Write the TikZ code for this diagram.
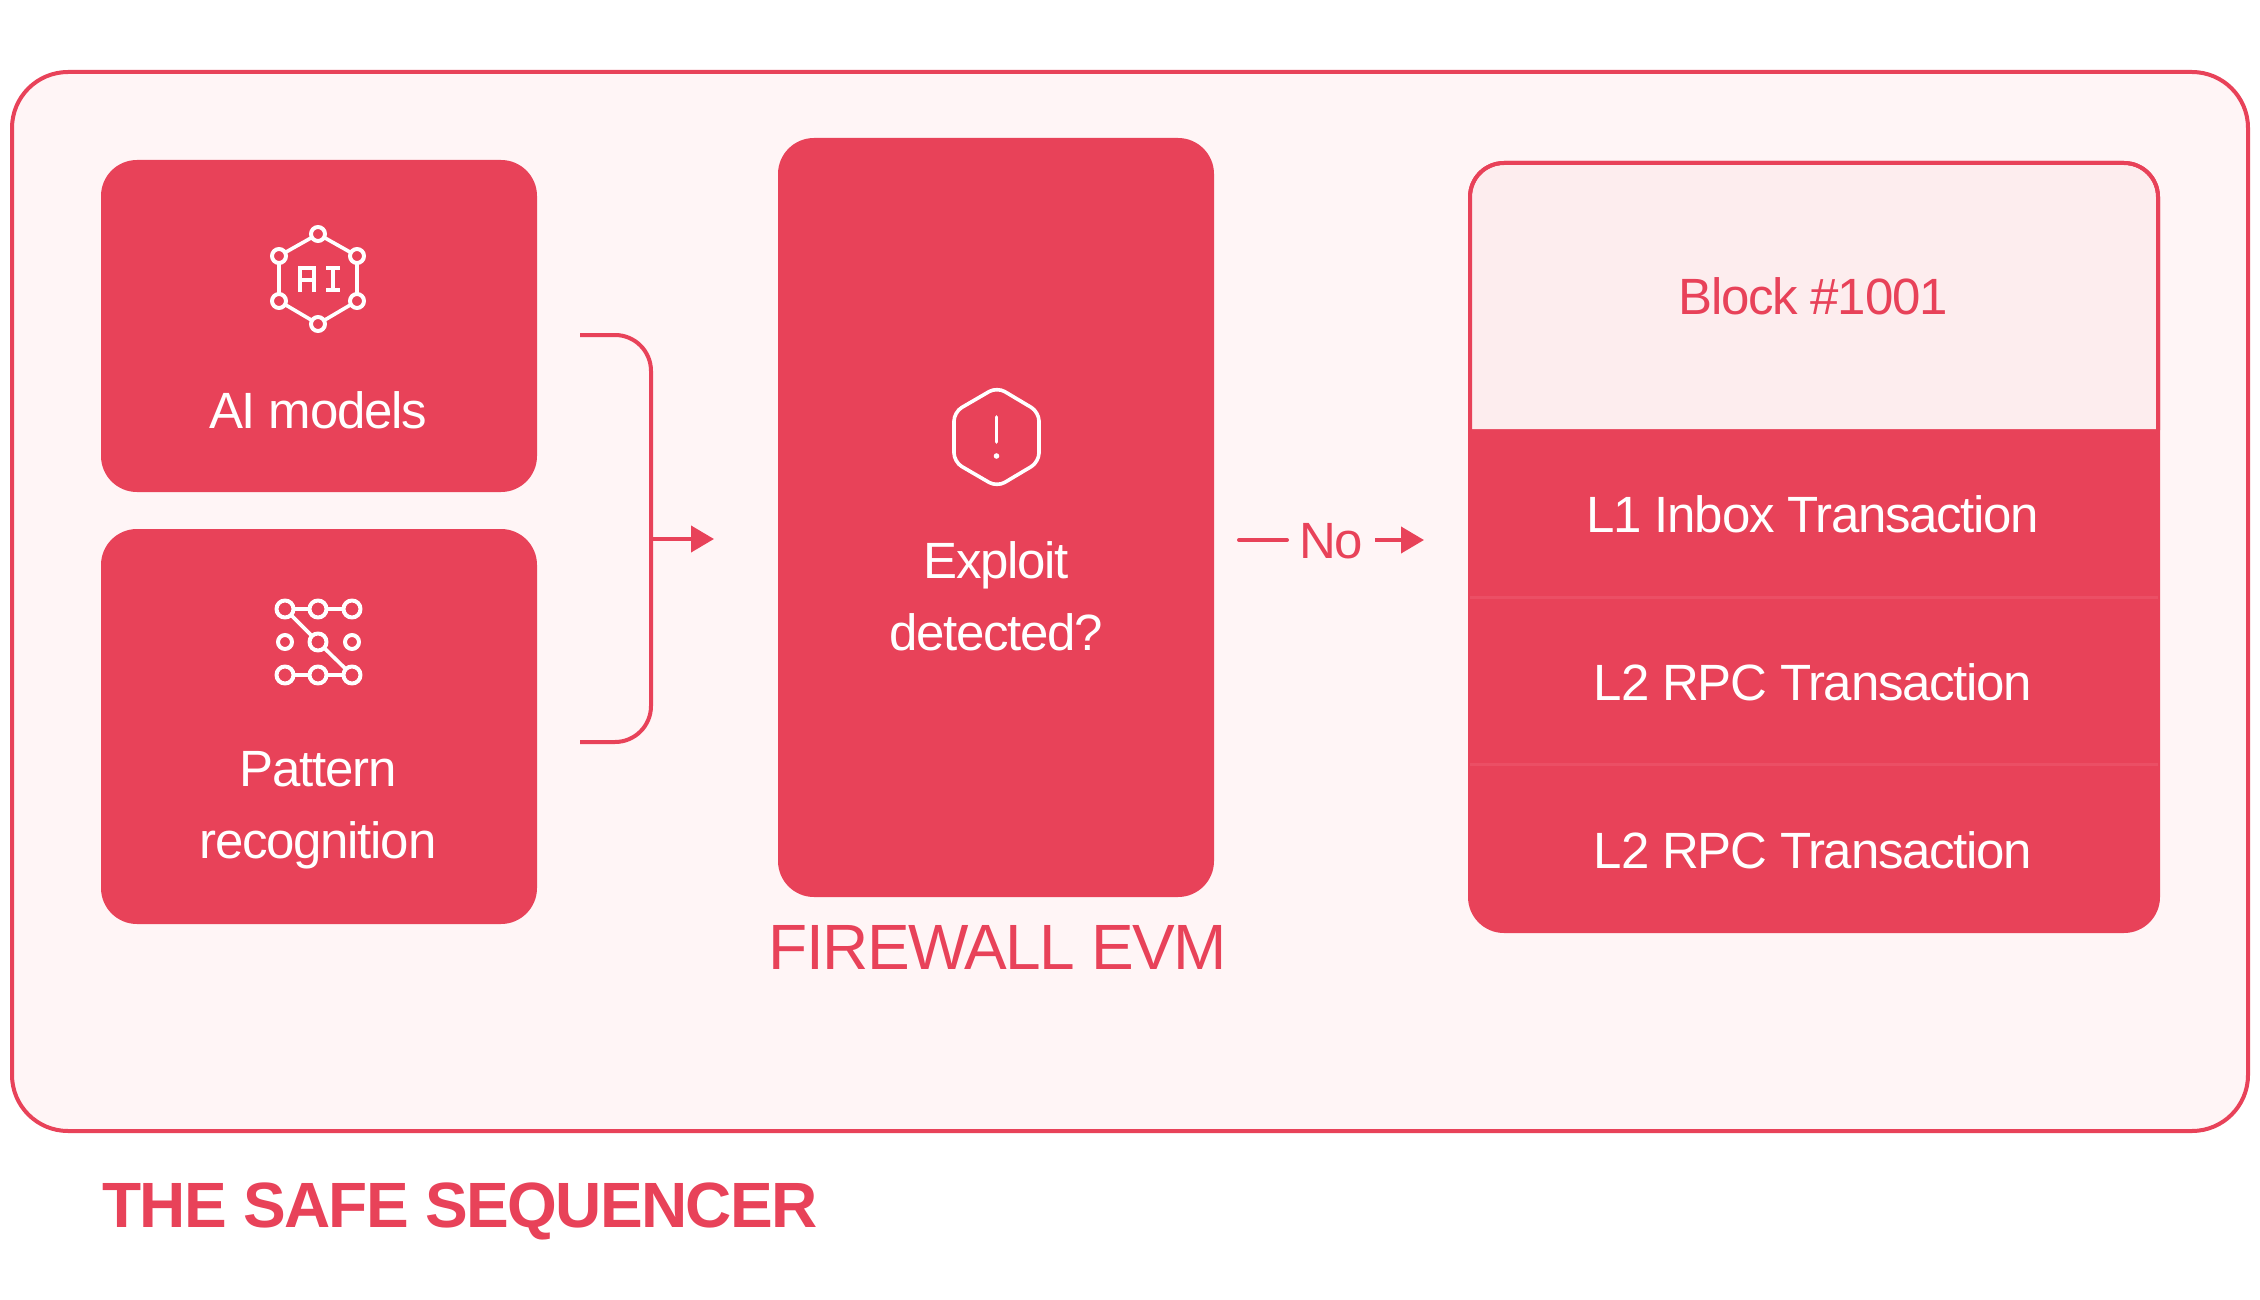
\documentclass[tikz,border=0pt]{standalone}
\usepackage{fontspec}
\setmainfont{Liberation Sans}[LetterSpace=-2.5]
\usetikzlibrary{arrows.meta}
\definecolor{rosered}{HTML}{E84259}
\definecolor{paper}{HTML}{FFF5F6}
\definecolor{blocktint}{HTML}{FDEDEE}
\definecolor{seam}{HTML}{EB4F65}
\tikzset{
  x=1pt,y=-1pt,
  panel/.style={fill=rosered,rounded corners=36pt,inner sep=0pt,outer sep=0pt},
  wtext/.style={text=white,font=\fontsize{51}{72}\selectfont,align=center,inner sep=0pt},
  rtext/.style={text=rosered,font=\fontsize{51}{72}\selectfont,align=center,inner sep=0pt},
  icon/.style={draw=white,line width=3.6pt,line cap=round,line join=round},
  link/.style={draw=rosered,line width=4pt},
  tip/.style={-{Triangle[length=23pt,width=26pt]}},
}
\begin{document}
\begin{tikzpicture}
\useasboundingbox (0,0) rectangle (2260,1300);
\fill[white] (0,0) rectangle (2260,1300);
% outer frame
\draw[draw=rosered,line width=4pt,fill=paper,rounded corners=56pt] (12,72) rectangle (2248,1131);
% boxes
\fill[panel] (101,160) rectangle (537,492);
\fill[panel] (101,529) rectangle (537,924);
\fill[panel] (778,138) rectangle (1214,897);
\fill[panel] (1468,161) rectangle (2160,933);
\fill[blocktint] (1472,429) -- (1472,197) [rounded corners=32pt] -- (1472,165) -- (2156,165) [sharp corners] -- (2156,429) -- cycle;
\draw[line width=4pt,draw=rosered,rounded corners=34pt] (1470,430) -- (1470,163) -- (2158,163) -- (2158,430);
\fill[seam] (1470,596) rectangle (2158,598.5);
\fill[seam] (1470,763) rectangle (2158,765.5);
% AI icon
\draw[icon] (318,234) -- (357,256) -- (357,301) -- (318,324) -- (279,301) -- (279,256) -- cycle;
\foreach \p in {(318,234),(357,256),(357,301),(318,324),(279,301),(279,256)}
  \draw[icon,fill=rosered,line width=4pt] \p circle (7pt);
\draw[icon,line cap=butt,line join=miter,line width=3.4pt] (300,292) -- (300,268) -- (314,268) -- (314,292) (300,280) -- (314,280)
  (326,268) -- (340,268) (333,268) -- (333,290) (326,290) -- (340,290);
% pattern icon
\draw[icon] (285,609) -- (352,609) (285,609) -- (318,642) -- (352,675) (285,675) -- (352,675);
\foreach \p in {(285,609),(318,609),(352,609),(318,642),(285,675),(318,675),(352,675)}
  \draw[icon,fill=rosered,line width=4pt] \p circle (8.5pt);
\foreach \p in {(285,642),(352,642)}
  \draw[icon,fill=rosered,line width=4pt] \p circle (7pt);
% warning icon
\draw[icon,rounded corners=9pt] (997,387) -- (1039,412) -- (1039,462) -- (997,487) -- (954,462) -- (954,412) -- cycle;
\draw[icon] (996.5,417) -- (996.5,442);
\fill[white] (996.5,456) circle (2.8pt);
% texts
\node[wtext] (aimodels) at (318,410) {AI models};
\node[wtext] (pattern) at (318,810) {Pattern\\recognition};
\node[wtext] (exploit) at (996,596) {Exploit\\detected?};
\node[rtext] (firewall) at (998,947) {\fontsize{64}{72}\selectfont FIREWALL EVM};
\node[rtext] (block) at (1813,296) {Block \#1001};
\node[wtext] (lone) at (1813,514) {L1 Inbox Transaction};
\node[wtext] (ltwoa) at (1813,682) {L2 RPC Transaction};
\node[wtext] (ltwob) at (1813,850) {L2 RPC Transaction};
\node[rtext,anchor=west] (safe) at (102,1211) {\fontsize{64}{72}\selectfont\bfseries THE SAFE SEQUENCER};
\node[rtext] (no) at (1331,541) {No};
% connectors
\coordinate (bracketa) at (580,335);
\coordinate (bracketb) at (580,742);
\coordinate (bracketc) at (651,539);
\coordinate (bracketd) at (714,539);
\coordinate (noa) at (1239,540);
\coordinate (nob) at (1287,540);
\coordinate (noc) at (1375,540);
\coordinate (nod) at (1424,540);
\draw[link,rounded corners=36pt] (bracketa) -- (bracketa -| bracketc) -- (bracketb -| bracketc) -- (bracketb);
\draw[link,tip] (bracketc) -- (bracketd);
\draw[link,line cap=round] (noa) -- (nob);
\draw[link,tip] (noc) -- (nod);
\end{tikzpicture}
\end{document}
